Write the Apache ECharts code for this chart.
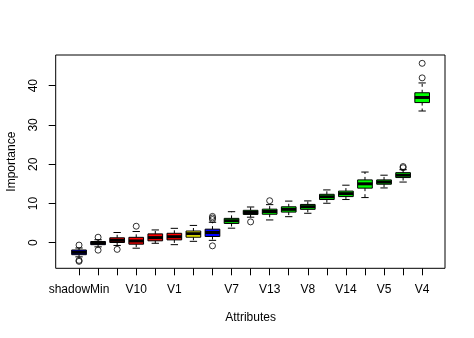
<!DOCTYPE html>
<html>
<head>
<meta charset="utf-8">
<script src="https://cdn.jsdelivr.net/npm/echarts@6/dist/echarts.min.js"></script>
<style>
  html, body { margin: 0; padding: 0; background: #fff; }
  #chart { width: 474px; height: 338px; }
</style>
</head>
<body>
<div id="chart"></div>
<script>
// Boruta attribute importance: one box per attribute, sorted by median.
const attributes = ['shadowMin', 'shadowMean', 'V11', 'V10', 'V9', 'V1', 'V12', 'shadowMax',
  'V7', 'V6', 'V13', 'V2', 'V8', 'V3', 'V14', 'V15', 'V5', 'V16', 'V4'];
const decisions = ['shadow', 'shadow', 'Rejected', 'Rejected', 'Rejected', 'Rejected', 'Tentative', 'shadow',
  'Confirmed', 'Confirmed', 'Confirmed', 'Confirmed', 'Confirmed', 'Confirmed', 'Confirmed',
  'Confirmed', 'Confirmed', 'Confirmed', 'Confirmed'];

const lowerWhisker = [-3.6, -1.05, -0.7, -1.4, -0.15, -0.5, 0.35, 0.6, 3.7, 6.5, 5.8, 6.63, 7.5, 10.05, 11.0, 11.5, 13.95, 15.45, 33.55];
const lowerQuartile = [-3.05, -0.5, 0.05, -0.38, 0.48, 0.72, 1.4, 1.58, 4.9, 7.2, 7.25, 7.8, 8.5, 11.0, 11.75, 13.9, 14.9, 16.6, 35.7];
const medians = [-2.45, -0.1, 0.6, 0.45, 1.3, 1.53, 2.3, 2.6, 5.6, 7.7, 7.95, 8.5, 9.17, 11.7, 12.5, 15.0, 15.45, 17.2, 37.0];
const upperQuartile = [-1.85, 0.3, 1.25, 1.37, 2.25, 2.4, 2.98, 3.45, 6.2, 8.25, 8.55, 9.15, 9.75, 12.33, 13.15, 16.0, 16.0, 17.85, 38.2];
const upperWhisker = [-1.35, 0.75, 2.6, 2.85, 3.25, 3.66, 4.4, 5.2, 7.9, 9.1, 9.7, 10.6, 10.65, 13.45, 14.65, 18.0, 17.2, 18.6, 40.7];

const outlierAttributes = ['shadowMin', 'shadowMin', 'shadowMin', 'shadowMean', 'shadowMean', 'V11', 'V10',
  'shadowMax', 'shadowMax', 'shadowMax', 'shadowMax', 'V6', 'V13', 'V16', 'V16', 'V4', 'V4'];
const outlierValues = [-0.6, -4.5, -4.75, 1.4, -1.9, -1.7, 4.2,
  5.9, 6.3, 6.7, -0.8, 5.3, 10.7, 19.1, 19.4, 42.0, 45.7];

const shownLabels = ['shadowMin', 'V10', 'V1', 'V7', 'V13', 'V8', 'V14', 'V5', 'V4'];
const yTicks = [0, 10, 20, 30, 40];

const fillColors = { shadow: '#0000ff', Rejected: '#ff0000', Tentative: '#ffff00', Confirmed: '#00ff00' };
const FONT = 'Liberation Sans, Arial, Helvetica, sans-serif';

const boxData = attributes.map((a, i) => [i, lowerWhisker[i], lowerQuartile[i], medians[i], upperQuartile[i], upperWhisker[i]]);
const outlierData = outlierAttributes.map((a, i) => [a, outlierValues[i]]);

function renderBox(params, api) {
  const i = api.value(0);
  const band = api.size([1, 0])[0];
  const bw = band * 0.77;
  const cx = api.coord([i, 0])[0];
  const py = k => api.coord([i, api.value(k)])[1];
  const yLo = py(1), yQ1 = py(2), yMed = py(3), yQ3 = py(4), yHi = py(5);
  const fill = fillColors[decisions[params.dataIndex]];
  const thin = { stroke: '#000', lineWidth: 1 };
  const dashed = { stroke: '#000', lineWidth: 1, lineDash: [3, 3] };
  return {
    type: 'group',
    children: [
      { type: 'line', shape: { x1: cx, y1: yQ3, x2: cx, y2: yHi }, style: dashed },
      { type: 'line', shape: { x1: cx, y1: yQ1, x2: cx, y2: yLo }, style: dashed },
      { type: 'line', shape: { x1: cx - bw / 4, y1: yHi, x2: cx + bw / 4, y2: yHi }, style: thin },
      { type: 'line', shape: { x1: cx - bw / 4, y1: yLo, x2: cx + bw / 4, y2: yLo }, style: thin },
      { type: 'rect', shape: { x: cx - bw / 2, y: yQ3, width: bw, height: yQ1 - yQ3 },
        style: { fill: fill, stroke: '#000', lineWidth: 1 } },
      { type: 'line', shape: { x1: cx - bw / 2, y1: yMed, x2: cx + bw / 2, y2: yMed },
        style: { stroke: '#000', lineWidth: 3 } }
    ]
  };
}

const Y_MIN = -6.52, Y_MAX = 47.82;

const chart = echarts.init(document.getElementById('chart'), null, { renderer: 'canvas' });
chart.setOption({
  animation: false,
  backgroundColor: '#fff',
  textStyle: { fontFamily: FONT },
  grid: [
    { left: 69.5, right: 42.3, top: 55, bottom: 69.7, containLabel: false, outerBoundsMode: 'none' },
    { left: 55.7, right: 29, top: 55, bottom: 69.7, show: true, borderColor: '#000', borderWidth: 1,
      backgroundColor: 'transparent', containLabel: false, outerBoundsMode: 'none' }
  ],
  xAxis: [
    {
      type: 'category', gridIndex: 0, data: attributes, boundaryGap: true, position: 'bottom',
      axisLine: { show: false, onZero: false },
      axisTick: { show: true, alignWithLabel: true, interval: 0, length: 7, inside: false,
        lineStyle: { color: '#000', width: 1 } },
      axisLabel: { interval: (idx, val) => shownLabels.includes(val), margin: 15,
        color: '#000', fontSize: 12, fontFamily: FONT },
      splitLine: { show: false },
      name: 'Attributes', nameLocation: 'middle', nameGap: 43,
      nameTextStyle: { color: '#000', fontSize: 12, fontFamily: FONT }
    },
    { type: 'value', gridIndex: 1, show: false, min: 0, max: 1 }
  ],
  yAxis: [
    {
      type: 'value', gridIndex: 0, min: Y_MIN, max: Y_MAX, offset: 13.8,
      axisLine: { show: false },
      axisTick: { show: true, length: 7, inside: false, customValues: yTicks,
        lineStyle: { color: '#000', width: 1 } },
      axisLabel: { customValues: yTicks, rotate: 90, margin: 16, color: '#000', fontSize: 12, fontFamily: FONT },
      splitLine: { show: false },
      name: 'Importance', nameLocation: 'middle', nameRotate: 90, nameGap: 38,
      nameTextStyle: { color: '#000', fontSize: 12, fontFamily: FONT }
    },
    { type: 'value', gridIndex: 1, show: false, min: 0, max: 1 }
  ],
  series: [
    {
      type: 'custom', xAxisIndex: 0, yAxisIndex: 0,
      renderItem: renderBox,
      encode: { x: 0, y: [1, 2, 3, 4, 5] },
      data: boxData,
      z: 2
    },
    {
      type: 'scatter', xAxisIndex: 0, yAxisIndex: 0,
      symbol: 'circle', symbolSize: 6,
      itemStyle: { color: 'rgba(0,0,0,0)', borderColor: '#000', borderWidth: 1 },
      data: outlierData,
      z: 3
    }
  ]
});
</script>
</body>
</html>
